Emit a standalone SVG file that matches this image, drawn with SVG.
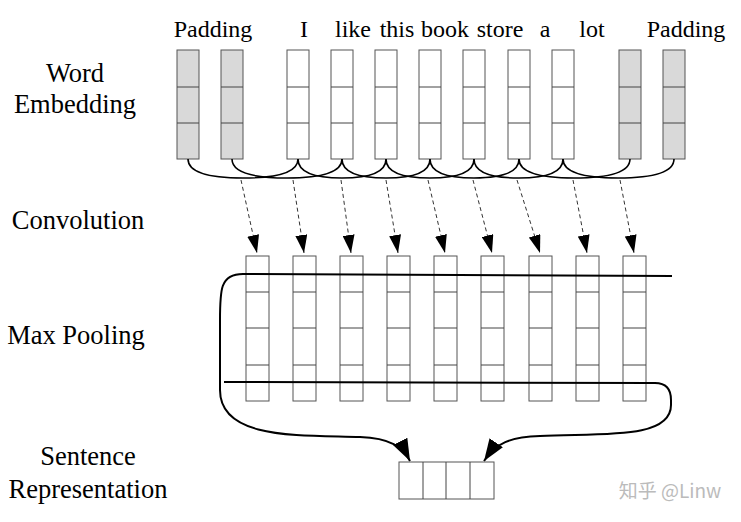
<svg xmlns="http://www.w3.org/2000/svg" width="741" height="522" viewBox="0 0 741 522">
<defs>
<style>
text{font-family:"Liberation Serif",serif;font-size:24px;fill:#000;text-anchor:middle}
.big{font-size:26.5px}
.pad{fill:#d9d9d9;stroke:#555;stroke-width:1}
.wrd{fill:#fff;stroke:#555;stroke-width:1}
.div{stroke:#444;stroke-width:1}
.br{fill:none;stroke:#000;stroke-width:1.6}
.dash{fill:none;stroke:#333;stroke-width:1;stroke-dasharray:4,3}
.flow{fill:none;stroke:#000;stroke-width:2}
</style>
<marker id="ah" markerWidth="18" markerHeight="12" refX="18" refY="6" viewBox="0 0 18 12" orient="auto" markerUnits="userSpaceOnUse">
<path d="M0,0 L18,6 L0,12 Z" fill="#000"/>
</marker>
<marker id="ah2" markerWidth="22" markerHeight="16" refX="22" refY="8" viewBox="0 0 22 16" orient="auto" markerUnits="userSpaceOnUse">
<path d="M0,0 L22,8 L0,16 Z" fill="#000"/>
</marker>
</defs>
<rect width="741" height="522" fill="#fff"/>
<g id="labels">
<text x="213" y="37">Padding</text><text x="304" y="37">I</text><text x="353" y="37">like</text><text x="397" y="37">this</text><text x="445" y="37">book</text><text x="500" y="37">store</text><text x="545" y="37">a</text><text x="592" y="37">lot</text><text x="686" y="37">Padding</text>
<text class="big" x="75" y="82">Word</text><text class="big" x="75" y="113">Embedding</text>
<text class="big" x="78" y="229">Convolution</text>
<text class="big" x="76" y="344">Max Pooling</text>
<text class="big" x="88" y="465">Sentence</text><text class="big" x="88" y="498">Representation</text>
<text x="670" y="498" style="font-family:'Noto Sans CJK SC','Liberation Sans',sans-serif;font-size:19px;fill:#bbb">知乎 @Linw</text>
</g>
<g id="embedding">
<g class="pad"><rect x="177" y="50" width="22" height="109"/><rect x="221" y="50" width="22" height="109"/><rect x="619" y="50" width="22" height="109"/><rect x="663" y="50" width="22" height="109"/></g>
<g class="wrd"><rect x="287" y="50" width="22" height="109"/><rect x="331" y="50" width="22" height="109"/><rect x="375" y="50" width="22" height="109"/><rect x="419" y="50" width="22" height="109"/><rect x="463" y="50" width="22" height="109"/><rect x="508" y="50" width="22" height="109"/><rect x="552" y="50" width="22" height="109"/></g>
<g class="div"><path d="M177,87h22M221,87h22M287,87h22M331,87h22M375,87h22M419,87h22M463,87h22M508,87h22M552,87h22M619,87h22M663,87h22M177,123h22M221,123h22M287,123h22M331,123h22M375,123h22M419,123h22M463,123h22M508,123h22M552,123h22M619,123h22M663,123h22"/></g>
</g>
<g id="convolution">
<g class="wrd"><rect x="246" y="256" width="23" height="145"/><rect x="293" y="256" width="23" height="145"/><rect x="340" y="256" width="23" height="145"/><rect x="387" y="256" width="23" height="145"/><rect x="434" y="256" width="23" height="145"/><rect x="481" y="256" width="23" height="145"/><rect x="529" y="256" width="23" height="145"/><rect x="576" y="256" width="23" height="145"/><rect x="623" y="256" width="23" height="145"/></g>
<g class="div"><path d="M246,292h23M293,292h23M340,292h23M387,292h23M434,292h23M481,292h23M529,292h23M576,292h23M623,292h23M246,328h23M293,328h23M340,328h23M387,328h23M434,328h23M481,328h23M529,328h23M576,328h23M623,328h23M246,365h23M293,365h23M340,365h23M387,365h23M434,365h23M481,365h23M529,365h23M576,365h23M623,365h23"/></g>
</g>
<g id="sentence">
<rect class="wrd" x="399" y="462" width="95" height="37"/>
<path class="div" d="M423,462v37M446,462v37M470,462v37"/>
</g>
<g id="connectors">
<g class="br">
<path d="M188,159 Q188,178 243,178 Q298,178 298,159"/>
<path d="M232,159 Q232,178 287,178 Q342,178 342,159"/>
<path d="M298,159 Q298,178 342,178 Q386,178 386,159"/>
<path d="M342,159 Q342,178 386,178 Q430,178 430,159"/>
<path d="M386,159 Q386,178 430,178 Q474,178 474,159"/>
<path d="M430,159 Q430,178 474,178 Q519,178 519,159"/>
<path d="M474,159 Q474,178 519,178 Q563,178 563,159"/>
<path d="M519,159 Q519,178 574,178 Q630,178 630,159"/>
<path d="M563,159 Q563,178 618,178 Q674,178 674,159"/>
</g>
<g class="dash">
<path d="M241,180 L257,253" marker-end="url(#ah)"/>
<path d="M293,180 L304,253" marker-end="url(#ah)"/>
<path d="M341,180 L351,253" marker-end="url(#ah)"/>
<path d="M386,180 L398,253" marker-end="url(#ah)"/>
<path d="M428,180 L445,253" marker-end="url(#ah)"/>
<path d="M473,180 L492,253" marker-end="url(#ah)"/>
<path d="M517,180 L540,253" marker-end="url(#ah)"/>
<path d="M573,180 L587,253" marker-end="url(#ah)"/>
<path d="M620,180 L634,253" marker-end="url(#ah)"/>
</g>
<g class="flow">
<path d="M243,274 L672,276"/>
<path d="M243,274 C220,274 220,290 220,320 L220,390 C220,440 300,435 360,437 C390,438 403,447 410,461" marker-end="url(#ah2)"/>
<path d="M224,382 L655,383 C668,383 671,392 671,400 L671,405 C671,440 600,433 540,436 C510,437 496,443 484,461" marker-end="url(#ah2)"/>
</g>
</g>
</svg>
